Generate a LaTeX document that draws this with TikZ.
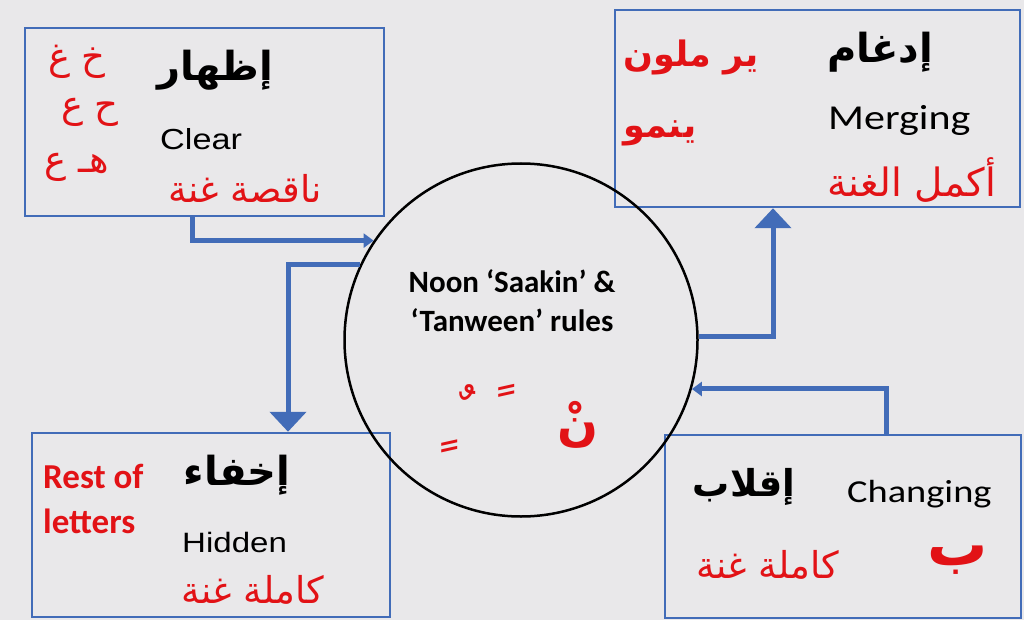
\documentclass[tikz,border=0pt]{standalone}
\usepackage{fontspec}
\usetikzlibrary{arrows.meta}
\TeXXeTstate=1
\setmainfont{Liberation Sans}
\newfontfamily\arfont[Script=Arabic]{DejaVu Sans}
\newfontfamily\arialw[FakeStretch=1.18]{Liberation Sans}
\newfontfamily\calw[FakeStretch=1.2]{Carlito}
\newfontfamily\calfont{Carlito}
\definecolor{bg}{RGB}{233,232,234}
\definecolor{bluel}{RGB}{66,108,184}
\definecolor{arred}{RGB}{226,18,22}
\begin{document}
\begin{tikzpicture}[x=1pt,y=-1pt,
  box/.style={draw=bluel, line width=2.5pt, inner sep=0pt},
  conn/.style={draw=bluel, line width=5pt},
  bigtip/.style={-{Triangle[width=36pt,length=20pt]}},
  smalltip/.style={-{Triangle[width=14pt,length=10pt]}},
  txt/.style={inner sep=0pt},
  artitle/.style={txt, font=\arfont\bfseries\fontsize{40}{46}\selectfont},
  arred/.style={txt, text=arred, font=\arfont\fontsize{37}{42}\selectfont},
  arredb/.style={txt, text=arred, font=\arfont\bfseries\fontsize{35}{40}\selectfont},
  tmark/.style={txt, text=arred, font=\arfont\fontsize{56}{60}\selectfont},
]
\useasboundingbox (0,0) rectangle (1024,620);
\fill[bg] (0,0) rectangle (1024,620);

% boxes
\node[box, minimum width=359pt, minimum height=188pt] (izhar) at (204.5,122) {};
\node[box, minimum width=405pt, minimum height=197pt] (idgham) at (817.5,108.5) {};
\node[box, minimum width=358pt, minimum height=184pt] (ikhfa) at (211,525) {};
\node[box, minimum width=356pt, minimum height=183pt] (iqlab) at (843,526.5) {};
\node[draw=black, line width=2.5pt, circle, minimum size=353pt, inner sep=0pt] (circ) at (521,340) {};

% connectors
\draw[conn, smalltip] ([xshift=-12.5pt]izhar.south) |- (circ.146.7);
\draw[conn, bigtip] (circ.155.9) -| ([xshift=77pt]ikhfa.north);
\draw[conn, bigtip] (circ.1.3) -| ([xshift=-44.5pt]idgham.south);
\draw[conn, smalltip] ([xshift=43pt]iqlab.north) |- (circ.-16.1);

% Izhar
\node[artitle] (izt) at (215,70) {\beginR إظهار\endR};
\node[txt, anchor=west, font=\arialw\fontsize{29}{34}\selectfont] (izc) at (160,139) {Clear};
\node[arred] (izg) at (245,188) {\beginR ناقصة غنة\endR};
\node[arred] (izl1) at (77,62) {\beginR خ غ\endR};
\node[arred] (izl2) at (90,112) {\beginR ح ع\endR};
\node[arred] (izl3) at (77,167) {\beginR هـ ع\endR};

% Idgham
\node[artitle] (idt) at (880,52) {\beginR إدغام\endR};
\node[txt, anchor=west, font=\calw\fontsize{35}{40}\selectfont] (idc) at (828,120) {Merging};
\node[arred, font=\arfont\fontsize{39}{44}\selectfont] (idg) at (912,180) {\beginR أكمل الغنة\endR};
\node[arredb] (idl1) at (691,57) {\beginR ير ملون\endR};
\node[arredb] (idl2) at (660,133) {\beginR ينمو\endR};

% circle texts
\node[txt, font=\calfont\bfseries\fontsize{31}{36}\selectfont] (ct1) at (512,281) {Noon ‘Saakin’ \&};
\node[txt, font=\calfont\bfseries\fontsize{31}{36}\selectfont] (ct2) at (512,320) {‘Tanween’ rules};
\node[tmark] (m1) at (468,409) {ﹲ};
\node[tmark] (m2) at (507,407) {ﹰ};
\node[tmark] (m3) at (450,446) {ﹴ};
\node[txt, text=arred, font=\arfont\bfseries\fontsize{48}{56}\selectfont] (nn) at (578,425) {\beginR نْ\endR};

% Ikhfa
\node[artitle] (ikt) at (237,475) {\beginR إخفاء\endR};
\node[txt, anchor=west, font=\arialw\fontsize{28}{34}\selectfont] (ikc) at (182,542) {Hidden};
\node[arred] (ikg) at (253,590) {\beginR كاملة غنة\endR};
\node[txt, anchor=west, text=arred, font=\calfont\bfseries\fontsize{35}{40}\selectfont] (ikr1) at (43,476) {Rest of};
\node[txt, anchor=west, text=arred, font=\calfont\bfseries\fontsize{35}{40}\selectfont] (ikr2) at (43,521) {letters};

% Iqlab
\node[artitle, font=\arfont\bfseries\fontsize{37}{42}\selectfont] (iqt) at (744,487) {\beginR إقلاب\endR};
\node[txt, anchor=west, font=\calw\fontsize{32}{38}\selectfont] (iqc) at (847,494) {Changing};
\node[txt, text=arred, font=\arfont\bfseries\fontsize{60}{68}\selectfont] (iqb) at (958,560) {\beginR ب\endR};
\node[arred] (iqg) at (768,565) {\beginR كاملة غنة\endR};
\end{tikzpicture}
\end{document}
